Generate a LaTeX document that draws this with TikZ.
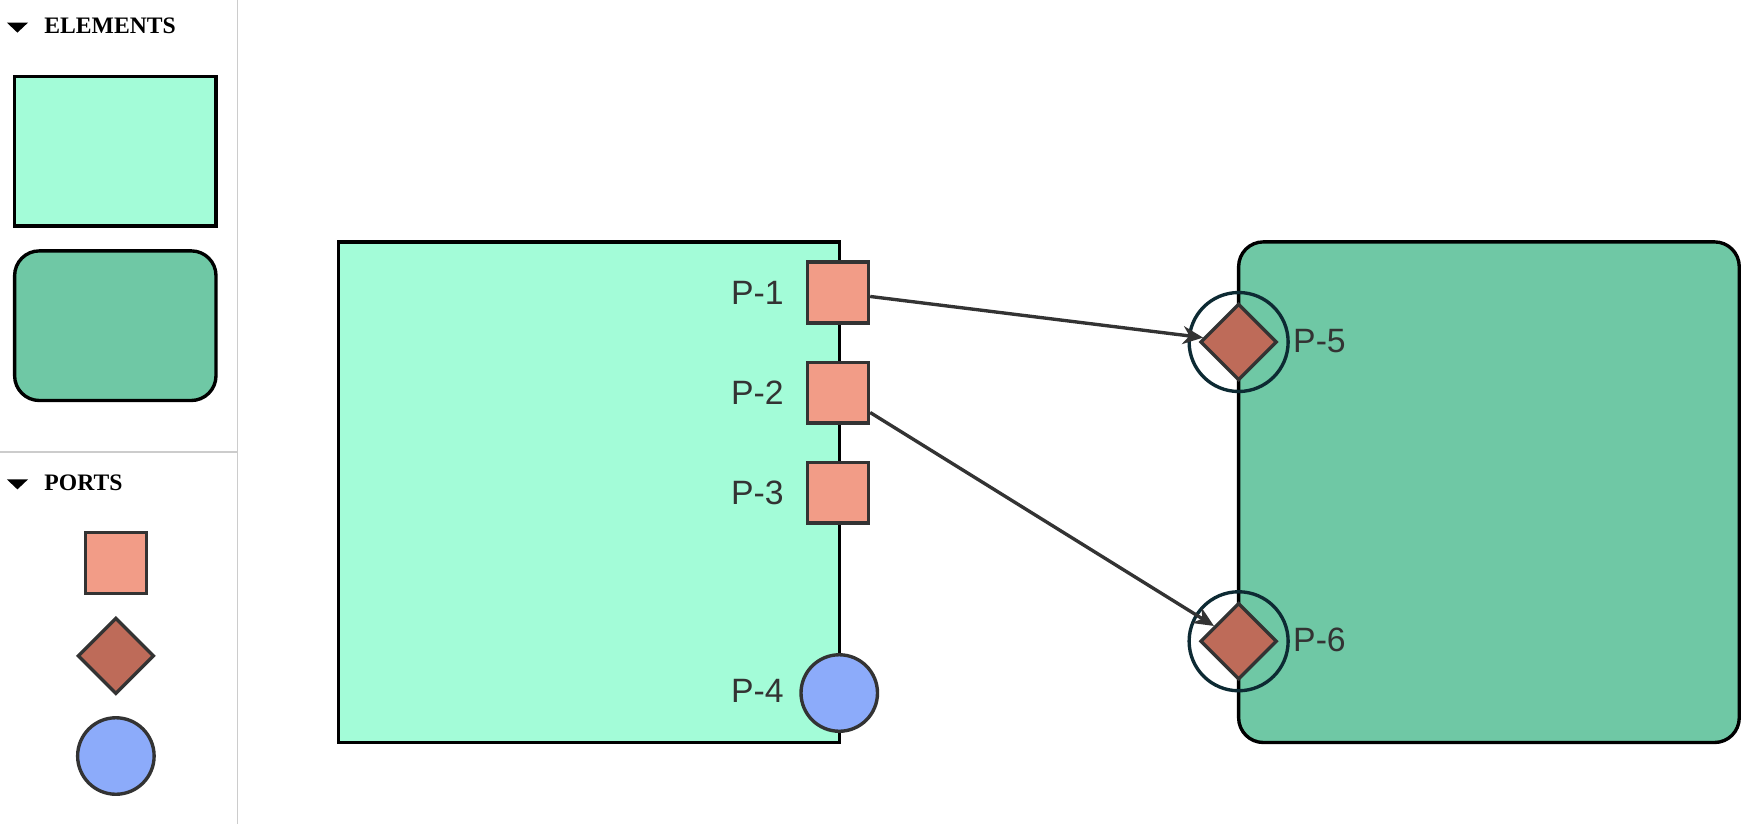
\documentclass[tikz,border=0pt]{standalone}
\usepackage{fontspec}
\setmainfont{Liberation Serif}
\newfontfamily\lsans{Liberation Sans}
\usetikzlibrary{shapes.geometric,arrows.meta}
\definecolor{light}{HTML}{A3FCD8}
\definecolor{dark}{HTML}{6FC8A5}
\definecolor{sq}{HTML}{F29C87}
\definecolor{dia}{HTML}{BE6B59}
\definecolor{cir}{HTML}{8CABFA}
\definecolor{pst}{HTML}{333333}
\definecolor{ring}{HTML}{0D2A33}
\begin{document}
\begin{tikzpicture}[x=1pt,y=-1pt,
  elem/.style={draw=black,line width=3pt},
  psq/.style={draw=pst,fill=sq,line width=3pt,minimum size=54pt,inner sep=0pt,rectangle},
  pdia/.style={draw=pst,fill=dia,line width=3pt,diamond,minimum width=68pt,minimum height=68pt,inner sep=0pt},
  pcir/.style={draw=pst,fill=cir,line width=3pt,circle,minimum size=68pt,inner sep=0pt},
  lab/.style={font=\lsans\fontsize{30}{30}\selectfont,text=pst},
  hdr/.style={font=\bfseries\fontsize{21}{21}\selectfont,anchor=west},
  conn/.style={draw=pst,line width=3pt,-{Stealth[length=18pt,width=16pt]}},
  tri/.style={fill=black}]
\useasboundingbox (0,0) rectangle (1568,732);
% sidebar
\draw[gray!40,line width=1.5pt] (211,0) -- (211,732);
\draw[gray!40,line width=1.5pt] (0,402) -- (211,402);
\fill[tri] (6,20) -- (25,20) -- (15.5,29) -- cycle;
\node[hdr] (h1) at (36,23) {ELEMENTS};
\fill[tri] (6,426) -- (25,426) -- (15.5,435) -- cycle;
\node[hdr] (h2) at (36,429) {PORTS};
\draw[elem,fill=light] (13,68) rectangle (192,201);
\draw[elem,fill=dark,rounded corners=22pt] (13,223) rectangle (192,356);
\node[psq] (ls) at (103,500.5) {};
\node[pdia] (ld) at (103,583) {};
\node[pcir] (lc) at (103,672) {};
% main elements
\draw[elem,fill=light] (301,215) rectangle (746,660);
\draw[elem,fill=dark,rounded corners=22pt] (1101,215) rectangle (1546,660);
\node[psq] (p1) at (745,260) {};
\node[psq] (p2) at (745,349) {};
\node[psq] (p3) at (745,438) {};
\node[pcir] (p4) at (746,616) {};
\node[lab,anchor=east] (l1) at (700,260) {P-1};
\node[lab,anchor=east] (l2) at (700,349) {P-2};
\node[lab,anchor=east] (l3) at (700,438) {P-3};
\node[lab,anchor=east] (l4) at (700,614) {P-4};
\node[pdia] (p5) at (1101,304) {};
\node[pdia] (p6) at (1101,570) {};
\draw[ring,line width=3pt] (p5.center) circle (44);
\draw[ring,line width=3pt] (p6.center) circle (44);
\node[lab,anchor=west] (l5) at (1146,303) {P-5};
\node[lab,anchor=west] (l6) at (1146,569) {P-6};
\draw[conn] (p1) -- (p5);
\draw[conn] (p2) -- (p6);
\end{tikzpicture}
\end{document}
